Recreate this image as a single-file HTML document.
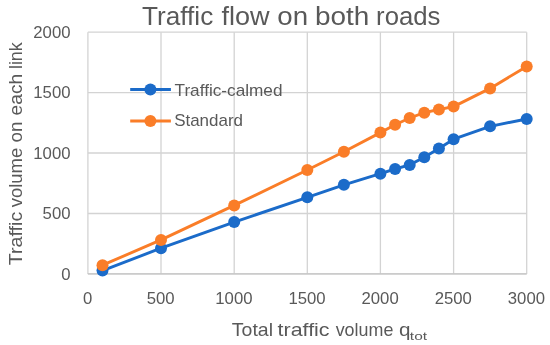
<!DOCTYPE html><html><head><meta charset="utf-8"><title>Traffic flow on both roads</title>
<style>html,body{margin:0;padding:0;background:#fff}svg{display:block}text{font-family:"Liberation Sans",sans-serif;fill:#595959}</style></head><body>
<svg width="550" height="345" viewBox="0 0 550 345">
<rect width="550" height="345" fill="#fff"/>
<g stroke="#D3D3D3" stroke-width="1.3" fill="none">
<line x1="87.9" y1="32.2" x2="87.9" y2="273.9"/>
<line x1="161.0" y1="32.2" x2="161.0" y2="273.9"/>
<line x1="234.2" y1="32.2" x2="234.2" y2="273.9"/>
<line x1="307.3" y1="32.2" x2="307.3" y2="273.9"/>
<line x1="380.4" y1="32.2" x2="380.4" y2="273.9"/>
<line x1="453.6" y1="32.2" x2="453.6" y2="273.9"/>
<line x1="526.7" y1="32.2" x2="526.7" y2="273.9"/>
<line x1="87.9" y1="273.9" x2="526.7" y2="273.9"/>
<line x1="87.9" y1="213.5" x2="526.7" y2="213.5"/>
<line x1="87.9" y1="153.0" x2="526.7" y2="153.0"/>
<line x1="87.9" y1="92.6" x2="526.7" y2="92.6"/>
<line x1="87.9" y1="32.2" x2="526.7" y2="32.2"/>
</g>
<line x1="87.9" y1="273.9" x2="526.7" y2="273.9" stroke="#C4C4C4" stroke-width="1.2"/>
<polyline points="102.5,270.6 161.0,248.2 234.2,222.1 307.3,197.3 343.9,184.8 380.4,173.7 395.1,169.0 409.7,164.9 424.3,157.2 438.9,148.5 453.6,139.2 490.1,126.3 526.7,119.0" fill="none" stroke="#1B6BC9" stroke-width="2.9" stroke-linejoin="round" stroke-linecap="round"/>
<g fill="#1B6BC9">
<circle cx="102.5" cy="270.6" r="6"/>
<circle cx="161.0" cy="248.2" r="6"/>
<circle cx="234.2" cy="222.1" r="6"/>
<circle cx="307.3" cy="197.3" r="6"/>
<circle cx="343.9" cy="184.8" r="6"/>
<circle cx="380.4" cy="173.7" r="6"/>
<circle cx="395.1" cy="169.0" r="6"/>
<circle cx="409.7" cy="164.9" r="6"/>
<circle cx="424.3" cy="157.2" r="6"/>
<circle cx="438.9" cy="148.5" r="6"/>
<circle cx="453.6" cy="139.2" r="6"/>
<circle cx="490.1" cy="126.3" r="6"/>
<circle cx="526.7" cy="119.0" r="6"/>
</g>
<polyline points="102.5,265.2 161.0,239.9 234.2,205.4 307.3,170.0 343.9,151.8 380.4,132.6 395.1,124.8 409.7,118.0 424.3,112.7 438.9,109.5 453.6,106.6 490.1,88.4 526.7,66.4" fill="none" stroke="#FA7D28" stroke-width="2.9" stroke-linejoin="round" stroke-linecap="round"/>
<g fill="#FA7D28">
<circle cx="102.5" cy="265.2" r="6"/>
<circle cx="161.0" cy="239.9" r="6"/>
<circle cx="234.2" cy="205.4" r="6"/>
<circle cx="307.3" cy="170.0" r="6"/>
<circle cx="343.9" cy="151.8" r="6"/>
<circle cx="380.4" cy="132.6" r="6"/>
<circle cx="395.1" cy="124.8" r="6"/>
<circle cx="409.7" cy="118.0" r="6"/>
<circle cx="424.3" cy="112.7" r="6"/>
<circle cx="438.9" cy="109.5" r="6"/>
<circle cx="453.6" cy="106.6" r="6"/>
<circle cx="490.1" cy="88.4" r="6"/>
<circle cx="526.7" cy="66.4" r="6"/>
</g>
<line x1="130.2" y1="89.5" x2="170.9" y2="89.5" stroke="#1B6BC9" stroke-width="2.9"/>
<circle cx="150.4" cy="89.5" r="6" fill="#1B6BC9"/>
<line x1="130.2" y1="121.0" x2="170.9" y2="121.0" stroke="#FA7D28" stroke-width="2.9"/>
<circle cx="150.4" cy="121.0" r="6" fill="#FA7D28"/>
<text x="174.53" y="95.6" font-size="16.6" textLength="107.94" lengthAdjust="spacingAndGlyphs">Traffic-calmed</text>
<text x="174.16" y="126.2" font-size="16.6" textLength="68.85" lengthAdjust="spacingAndGlyphs">Standard</text>
<text class="big" y="25.4" font-size="25.3"><tspan x="142.04" textLength="71.24" lengthAdjust="spacingAndGlyphs">Traffic</tspan> <tspan x="221.43" textLength="48.16" lengthAdjust="spacingAndGlyphs">flow</tspan> <tspan x="277.30" textLength="30.77" lengthAdjust="spacingAndGlyphs">on</tspan> <tspan x="315.00" textLength="54.34" lengthAdjust="spacingAndGlyphs">both</tspan> <tspan x="376.10" textLength="64.36" lengthAdjust="spacingAndGlyphs">roads</tspan></text>
<text x="70.5" y="279.5" font-size="15.8" text-anchor="end" textLength="9.3" lengthAdjust="spacingAndGlyphs">0</text>
<text x="70.5" y="219.1" font-size="15.8" text-anchor="end" textLength="27.9" lengthAdjust="spacingAndGlyphs">500</text>
<text x="70.5" y="158.6" font-size="15.8" text-anchor="end" textLength="37.2" lengthAdjust="spacingAndGlyphs">1000</text>
<text x="70.5" y="98.2" font-size="15.8" text-anchor="end" textLength="37.2" lengthAdjust="spacingAndGlyphs">1500</text>
<text x="70.5" y="37.8" font-size="15.8" text-anchor="end" textLength="37.2" lengthAdjust="spacingAndGlyphs">2000</text>
<text x="87.6" y="304.4" font-size="15.8" text-anchor="middle" textLength="9.3" lengthAdjust="spacingAndGlyphs">0</text>
<text x="160.7" y="304.4" font-size="15.8" text-anchor="middle" textLength="27.9" lengthAdjust="spacingAndGlyphs">500</text>
<text x="233.9" y="304.4" font-size="15.8" text-anchor="middle" textLength="37.2" lengthAdjust="spacingAndGlyphs">1000</text>
<text x="307.0" y="304.4" font-size="15.8" text-anchor="middle" textLength="37.2" lengthAdjust="spacingAndGlyphs">1500</text>
<text x="380.1" y="304.4" font-size="15.8" text-anchor="middle" textLength="37.2" lengthAdjust="spacingAndGlyphs">2000</text>
<text x="453.3" y="304.4" font-size="15.8" text-anchor="middle" textLength="37.2" lengthAdjust="spacingAndGlyphs">2500</text>
<text x="526.4" y="304.4" font-size="15.8" text-anchor="middle" textLength="37.2" lengthAdjust="spacingAndGlyphs">3000</text>
<text y="335.5" font-size="17.8"><tspan x="231.87" textLength="41.19" lengthAdjust="spacingAndGlyphs">Total</tspan> <tspan x="277.60" textLength="51.95" lengthAdjust="spacingAndGlyphs">traffic</tspan> <tspan x="335.68" textLength="57.69" lengthAdjust="spacingAndGlyphs">volume</tspan> <tspan x="399.00" textLength="11.50" lengthAdjust="spacingAndGlyphs">q</tspan><tspan x="409.88" y="339.7" font-size="11" textLength="17.19" lengthAdjust="spacingAndGlyphs">tot</tspan></text>
<text transform="translate(21.5 264.8) rotate(-90)" y="0" font-size="17.5"><tspan x="-0.42" textLength="53.41" lengthAdjust="spacingAndGlyphs">Traffic</tspan> <tspan x="57.47" textLength="59.51" lengthAdjust="spacingAndGlyphs">volume</tspan> <tspan x="122.30" textLength="20.82" lengthAdjust="spacingAndGlyphs">on</tspan> <tspan x="149.40" textLength="41.56" lengthAdjust="spacingAndGlyphs">each</tspan> <tspan x="195.72" textLength="26.79" lengthAdjust="spacingAndGlyphs">link</tspan></text>
</svg></body></html>
